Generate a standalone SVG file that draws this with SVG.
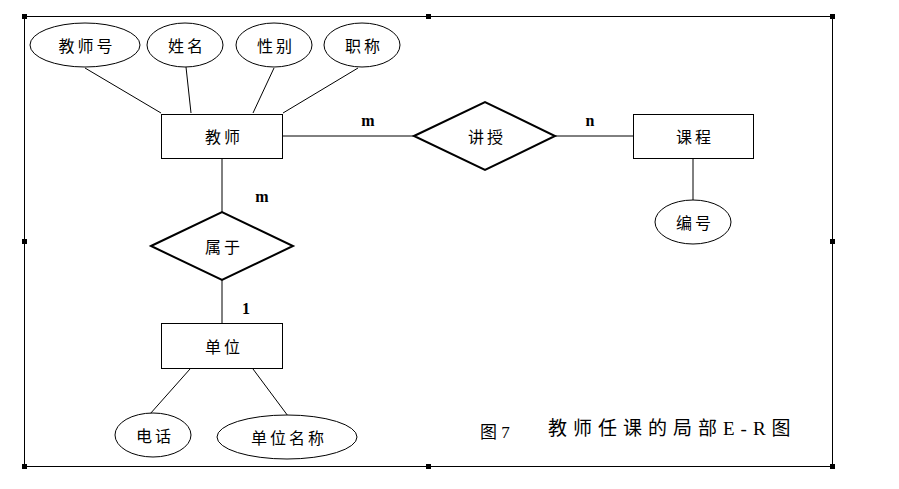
<svg xmlns="http://www.w3.org/2000/svg" width="899" height="489" viewBox="0 0 899 489">
<style>
.s{fill:#fff;stroke:#000;stroke-width:1}
.d{fill:#fff;stroke:#000;stroke-width:2}
.t{font-family:"Noto Sans CJK SC",sans-serif;font-size:16px;text-anchor:middle;dominant-baseline:central;fill:#000;letter-spacing:3px}
.l{font-family:"Liberation Serif",serif;font-size:16px;font-weight:bold;text-anchor:middle;fill:#000}
.h{fill:#000}
line{stroke:#000;stroke-width:1}
</style>
<rect width="899" height="489" fill="#fff"/>
<rect x="24.5" y="16.5" width="808" height="450" fill="none" stroke="#000"/>
<g class="h">
<rect x="22" y="14" width="5" height="5"/><rect x="426" y="14" width="5" height="5"/><rect x="830" y="14" width="5" height="5"/>
<rect x="22" y="239" width="5" height="5"/><rect x="830" y="239" width="5" height="5"/>
<rect x="22" y="464" width="5" height="5"/><rect x="426" y="464" width="5" height="5"/><rect x="830" y="464" width="5" height="5"/>
</g>
<g id="connectors">
<line x1="85" y1="68" x2="161" y2="113"/>
<line x1="186" y1="67" x2="191" y2="113"/>
<line x1="274" y1="68" x2="253" y2="113"/>
<line x1="358" y1="68" x2="283" y2="113"/>
<line x1="282" y1="136" x2="414" y2="136"/>
<line x1="555" y1="136" x2="633" y2="136"/>
<line x1="693" y1="158" x2="693" y2="201"/>
<line x1="222" y1="158" x2="222" y2="212"/>
<line x1="222" y1="280" x2="222" y2="323"/>
<line x1="190" y1="369" x2="150" y2="414"/>
<line x1="253" y1="369" x2="288" y2="416"/>
<text class="l" x="368" y="126">m</text>
<text class="l" x="590" y="126">n</text>
<text class="l" x="262" y="202">m</text>
<text class="l" x="246" y="314">1</text>
</g>
<g id="n1"><ellipse class="s" cx="85" cy="45" rx="55" ry="22"/><text class="t" x="87" y="45">教师号</text></g>
<g id="n2"><ellipse class="s" cx="185" cy="45" rx="38" ry="22"/><text class="t" x="187" y="45">姓名</text></g>
<g id="n3"><ellipse class="s" cx="274" cy="45" rx="38" ry="22"/><text class="t" x="276" y="45">性别</text></g>
<g id="n4"><ellipse class="s" cx="362" cy="45" rx="38" ry="22"/><text class="t" x="364" y="45">职称</text></g>
<g id="teacher"><rect class="s" x="161.5" y="114.5" width="121" height="44"/><text class="t" x="224" y="136">教师</text></g>
<g id="teach"><polygon class="d" points="414,136 485,102 555,136 485,170"/><text class="t" x="487" y="136">讲授</text></g>
<g id="course"><rect class="s" x="633.5" y="114.5" width="120" height="44"/><text class="t" x="695" y="136">课程</text></g>
<g id="cno"><ellipse class="s" cx="693" cy="222" rx="38" ry="22"/><text class="t" x="695" y="222">编号</text></g>
<g id="belong"><polygon class="d" points="151,246 222,212 293,246 222,280"/><text class="t" x="224" y="246">属于</text></g>
<g id="dept"><rect class="s" x="161.5" y="323.5" width="121" height="45"/><text class="t" x="224" y="346">单位</text></g>
<g id="phone"><ellipse class="s" cx="153" cy="435" rx="38" ry="22"/><text class="t" x="155" y="435">电话</text></g>
<g id="dname"><ellipse class="s" cx="287" cy="437" rx="70" ry="22"/><text class="t" x="289" y="437">单位名称</text></g>
<text x="480" y="432" font-family="Liberation Serif,'Noto Sans CJK SC',serif" font-size="17" dominant-baseline="central">图 7</text>
<text x="548" y="428" font-family="Liberation Serif,'Noto Sans CJK SC',serif" font-size="19" dominant-baseline="central" letter-spacing="6">教师任课的局部E-R图</text>
</svg>
